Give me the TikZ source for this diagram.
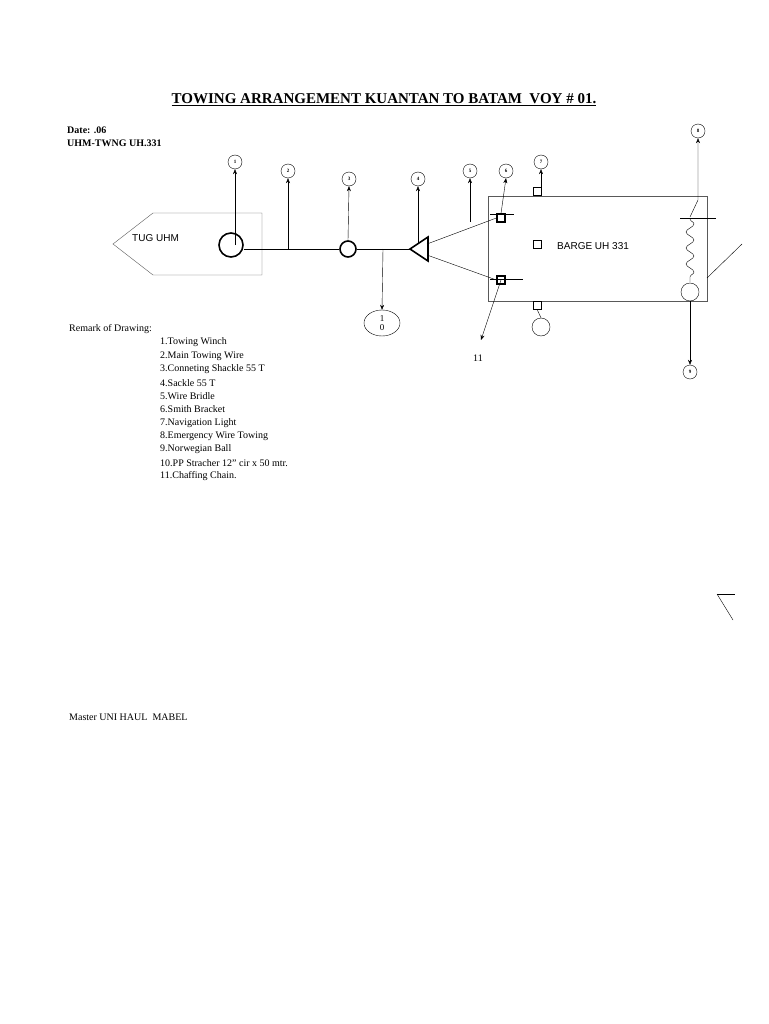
\documentclass[tikz,border=0pt]{standalone}
\usepackage{fontspec}
\setmainfont{Liberation Serif}
\setsansfont{Liberation Sans}
\usetikzlibrary{arrows.meta,decorations.pathmorphing,shapes.geometric}
\begin{document}
\begin{tikzpicture}[x=1pt,y=-1pt,
  lbl/.style={circle,draw,inner sep=0pt,minimum size=14pt,font=\fontsize{5}{5}\selectfont\bfseries},
  arr/.style={-{Stealth[length=5pt,width=4pt]}},
  sq/.style={draw,minimum size=8pt,inner sep=0pt},
  txt/.style={anchor=west,inner sep=0pt,font=\fontsize{10}{12}\selectfont}]
\useasboundingbox (0,0) rectangle (768,1024);
\node[inner sep=0pt,font=\fontsize{15}{16}\selectfont\bfseries] (title) at (384,100) {\underline{TOWING ARRANGEMENT KUANTAN TO BATAM\ \ VOY \# 01.}};
\node[txt,font=\fontsize{10}{12}\selectfont\bfseries] (date) at (67,130) {Date: .06};
\node[txt,font=\fontsize{10}{12}\selectfont\bfseries] (uhm) at (67,143) {UHM-TWNG UH.331};
% tug
\draw[gray!70!black] (113,244) -- (153,213) -- (262,213) -- (262,275) -- (153,275) -- cycle;
\node[txt,font=\sffamily\fontsize{10}{12}\selectfont] (tug) at (132,238) {TUG UHM};
\node[circle,draw,line width=1.6pt,minimum size=24pt,inner sep=0pt] (winch) at (231,245) {};
\node[circle,draw,line width=1.6pt,minimum size=16pt,inner sep=0pt] (shackle) at (348,249) {};
\coordinate (apex) at (410,249);
\draw[line width=1.6pt] (apex) -- (428,237) -- (428,261) -- cycle;
\draw[thick] (winch.east |- 0,249) -- (shackle.west);
\draw[thick] (shackle.east) -- (apex);
% labels
\node[lbl] (c1) at (235,162) {1};
\node[lbl] (c2) at (288,171) {2};
\node[lbl] (c3) at (349,179) {3};
\node[lbl] (c4) at (418,179) {4};
\node[lbl] (c5) at (470,171) {5};
\node[lbl] (c6) at (506,171) {6};
\node[lbl] (c7) at (541,162) {7};
\node[lbl] (c8) at (698,131) {8};
\node[lbl] (c9) at (690,372) {9};
\node[ellipse,draw,minimum width=36pt,minimum height=26pt,inner sep=0pt,align=center,font=\fontsize{9}{10}\selectfont] (c10) at (382,323) {1\\[-1pt]0};
\coordinate (w1) at (235,245);
\draw[arr] (w1) -- (c1.south);
\coordinate (w2) at (288,249);
\draw[arr] (w2) -- (c2.south);
\draw[arr] (shackle.north) -- (c3.south);
\coordinate (w4) at (418,243);
\draw[arr] (w4) -- (c4.south);
\coordinate (w10) at (383,249);
\draw[arr] (w10) -- (c10.north);
% barge
\draw[gray!70!black,thick] (488,196) rectangle (707,301);
\node[txt,font=\sffamily\fontsize{10}{12}\selectfont] (barge) at (557,246) {BARGE UH 331};
\node[sq,line width=1.2pt] (s6) at (501,218) {};
\node[sq,line width=1.2pt] (s11) at (501,280) {};
\node[sq] (s7) at (537,191) {};
\node[sq] (sm) at (537,244) {};
\node[sq] (sb) at (537,305) {};
\node[circle,draw,minimum size=18pt,inner sep=0pt] (ball) at (541,327) {};
\draw (sb.south) -- (ball.north);
\draw (490,214) -- (514,214);
\draw (490,279) -- (523,279);
\coordinate (b1) at (427,244);
\coordinate (b2) at (427,255);
\draw (b1) -- (s6.west);
\draw (b2) -- (s11.west);
\coordinate (w5) at (470,222);
\draw[arr] (w5) -- (c5.south);
\draw[arr] (s6.north) -- (c6.south);
\draw[arr] (s7.east) -| (c7.south);
\coordinate (e11) at (481,340);
\draw[arr] (s11.center) -- (e11);
\node[inner sep=0pt,font=\fontsize{10}{12}\selectfont] (n11) at (478,358) {11};
% emergency wire
\draw (680,218) -- (716,218);
\coordinate (k1) at (690,217);
\coordinate (k2) at (698,200);
\draw[arr] (k1) -- (k2) -- (c8.south);
\draw[decorate,decoration={snake,amplitude=4pt,segment length=16pt}] (690,219) -- (690,282);
\node[circle,draw,minimum size=18pt,inner sep=0pt] (nb) at (690,292) {};
\draw[arr] (nb.south) -- (c9.north);
\draw (707,278) -- (742,244);
\draw (717,594) -- (735,594);
\draw (717,594) -- (733,620);
% remarks
\node[txt] (rem) at (69,329) {Remark of Drawing:};
\foreach \t [count=\i] in {1.Towing Winch,2.Main Towing Wire,3.Conneting Shackle 55 T,4.Sackle 55 T,5.Wire Bridle,6.Smith Bracket,7.Navigation Light,8.Emergency Wire Towing,9.Norwegian Ball,{10.PP Stracher 12'' cir x 50 mtr.},11.Chaffing Chain.}
  \node[txt] (r\i) at (160,{329+13.4*\i}) {\t};
\node[txt] (master) at (69,717) {Master UNI HAUL\ \ MABEL};
\end{tikzpicture}
\end{document}
